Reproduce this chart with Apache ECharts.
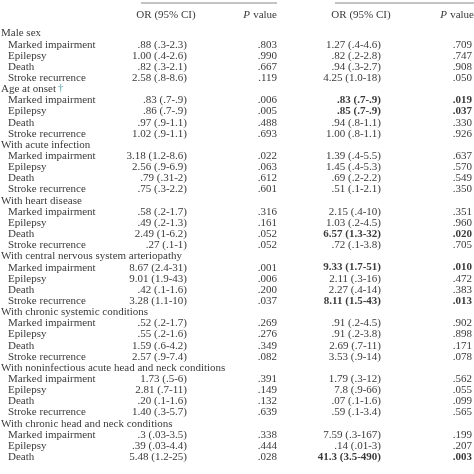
<!DOCTYPE html>
<html><head><meta charset="utf-8">
<script src="https://cdn.jsdelivr.net/npm/echarts@6/dist/echarts.min.js"></script>
<style>html,body{margin:0;padding:0;background:#fff}#c{width:474px;height:474px}</style>
</head><body><div id="c"></div>
<script>
const headers = ["OR (95% CI)", "P value", "OR (95% CI)", "P value"];
const groups = ["Male sex", "Age at onset", "With acute infection", "With heart disease",
  "With central nervous system arteriopathy", "With chronic systemic conditions",
  "With noninfectious acute head and neck conditions", "With chronic head and neck conditions"];
const outcomes = ["Marked impairment", "Epilepsy", "Death", "Stroke recurrence"];
const or1 = [
  [".88 (.3-2.3)", "1.00 (.4-2.6)", ".82 (.3-2.1)", "2.58 (.8-8.6)"],
  [".83 (.7-.9)", ".86 (.7-.9)", ".97 (.9-1.1)", "1.02 (.9-1.1)"],
  ["3.18 (1.2-8.6)", "2.56 (.9-6.9)", ".79 (.31-2)", ".75 (.3-2.2)"],
  [".58 (.2-1.7)", ".49 (.2-1.3)", "2.49 (1-6.2)", ".27 (.1-1)"],
  ["8.67 (2.4-31)", "9.01 (1.9-43)", ".42 (.1-1.6)", "3.28 (1.1-10)"],
  [".52 (.2-1.7)", ".55 (.2-1.6)", "1.59 (.6-4.2)", "2.57 (.9-7.4)"],
  ["1.73 (.5-6)", "2.81 (.7-11)", ".20 (.1-1.6)", "1.40 (.3-5.7)"],
  [".3 (.03-3.5)", ".39 (.03-4.4)", "5.48 (1.2-25)"]];
const p1 = [
  [".803", ".990", ".667", ".119"], [".006", ".005", ".488", ".693"],
  [".022", ".063", ".612", ".601"], [".316", ".161", ".052", ".052"],
  [".001", ".006", ".200", ".037"], [".269", ".276", ".349", ".082"],
  [".391", ".149", ".132", ".639"], [".338", ".444", ".028"]];
const or2 = [
  ["1.27 (.4-4.6)", ".82 (.2-2.8)", ".94 (.3-2.7)", "4.25 (1.0-18)"],
  [".83 (.7-.9)", ".85 (.7-.9)", ".94 (.8-1.1)", "1.00 (.8-1.1)"],
  ["1.39 (.4-5.5)", "1.45 (.4-5.3)", ".69 (.2-2.2)", ".51 (.1-2.1)"],
  ["2.15 (.4-10)", "1.03 (.2-4.5)", "6.57 (1.3-32)", ".72 (.1-3.8)"],
  ["9.33 (1.7-51)", "2.11 (.3-16)", "2.27 (.4-14)", "8.11 (1.5-43)"],
  [".91 (.2-4.5)", ".91 (.2-3.8)", "2.69 (.7-11)", "3.53 (.9-14)"],
  ["1.79 (.3-12)", "7.8 (.9-66)", ".07 (.1-1.6)", ".59 (.1-3.4)"],
  ["7.59 (.3-167)", ".14 (.01-3)", "41.3 (3.5-490)"]];
const p2 = [
  [".709", ".747", ".908", ".050"], [".019", ".037", ".330", ".926"],
  [".637", ".570", ".549", ".350"], [".351", ".960", ".020", ".705"],
  [".010", ".472", ".383", ".013"], [".902", ".898", ".171", ".078"],
  [".562", ".055", ".099", ".565"], [".199", ".207", ".003"]];
const bold2 = [[], [0, 1], [], [2], [0, 3], [], [], [2]];

const chart = echarts.init(document.getElementById('c'));
const font = '"Liberation Serif", "DejaVu Serif", serif';
const col = '#3a3a3a';
const els = [];
function t(x, y, s, align, bold, color, italic) {
  els.push({type: 'text', x: x, y: y, style: {text: s, x: 0, y: 0, fill: color || col,
    font: (italic ? 'italic ' : '') + (bold ? 'bold ' : '') + '11px ' + font,
    textAlign: align || 'left', textVerticalAlign: 'middle'}});
}
els.push({type: 'line', shape: {x1: 141, y1: 3, x2: 277, y2: 3}, style: {stroke: '#888', lineWidth: 1}});
els.push({type: 'line', shape: {x1: 335, y1: 3, x2: 474, y2: 3}, style: {stroke: '#888', lineWidth: 1}});
t(166, 15, headers[0], 'center');
els.push({type: 'text', x: 277, y: 15, style: {rich: {i: {fontStyle: 'italic', fontFamily: font, fontSize: 11, fill: col}, n: {fontFamily: font, fontSize: 11, fill: col}}, text: '{i|P} {n|value}', textAlign: 'right', textVerticalAlign: 'middle'}});
t(361, 15, headers[2], 'center');
els.push({type: 'text', x: 474, y: 15, style: {rich: {i: {fontStyle: 'italic', fontFamily: font, fontSize: 11, fill: col}, n: {fontFamily: font, fontSize: 11, fill: col}}, text: '{i|P} {n|value}', textAlign: 'right', textVerticalAlign: 'middle'}});
const y0 = 33.5, dy = 11.15;
let r = 0;
groups.forEach((g, gi) => {
  const y = y0 + r * dy;
  t(1, y, g, 'left');
  if (gi === 1) t(1 + 57, y - 1, '†', 'left', false, '#4aa3b0');
  r++;
  or1[gi].forEach((v, k) => {
    const yy = y0 + r * dy;
    const b = bold2[gi].indexOf(k) >= 0;
    t(8, yy, outcomes[k], 'left');
    t(187, yy, v, 'right');
    t(277, yy, p1[gi][k], 'right');
    t(381, yy, or2[gi][k], 'right', b);
    t(472, yy, p2[gi][k], 'right', b);
    r++;
  });
});
chart.setOption({animation: false, backgroundColor: '#fff', graphic: {elements: els}});
</script></body></html>
